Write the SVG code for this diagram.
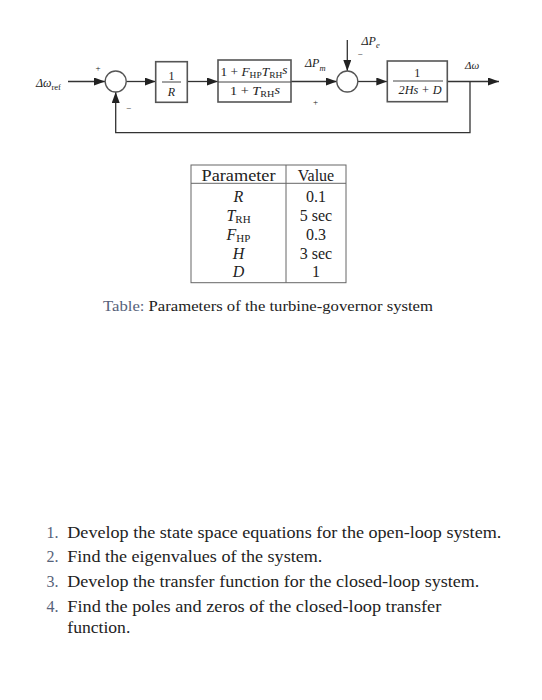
<svg xmlns="http://www.w3.org/2000/svg" width="542" height="700" viewBox="0 0 542 700">
<defs>
<style>
.t{font-family:"Liberation Serif","Times New Roman",serif;fill:#222}
.i{font-style:italic}
.ln{stroke:#333;stroke-width:1.3;fill:none}
.bx{stroke:#555;stroke-width:1.6;fill:#fff}
.frac{stroke:#444;stroke-width:1}
.sum{stroke:#555;stroke-width:1.3;fill:#fff}
.tb{stroke:#666;stroke-width:1;fill:none}
.num{fill:#56627a}
</style>
<marker id="ah" viewBox="0 0 11 8" refX="11" refY="4" markerWidth="11" markerHeight="8" markerUnits="userSpaceOnUse" orient="auto">
<path d="M0,0 L11,4 L0,8 z" fill="#222"/>
</marker>
</defs>
<rect width="542" height="700" fill="#fff"/>

<g id="connectors">
<path class="ln" d="M68,81.5 H105" marker-end="url(#ah)"/>
<path class="ln" d="M126.2,81.5 H155.7" marker-end="url(#ah)"/>
<path class="ln" d="M187.3,81.5 H218" marker-end="url(#ah)"/>
<path class="ln" d="M291,81.5 H336.8" marker-end="url(#ah)"/>
<path class="ln" d="M347.3,40 V71" marker-end="url(#ah)"/>
<path class="ln" d="M357.8,81.5 H387.3" marker-end="url(#ah)"/>
<path class="ln" d="M447.3,81.5 H499" marker-end="url(#ah)"/>
<path class="ln" d="M470,81.5 V132.7 H115.7 V92" marker-end="url(#ah)"/>
</g>

<g id="input-label">
<text class="t i" x="36" y="86.5" font-size="12">Δω<tspan font-size="8.5" dy="3" font-style="normal">ref</tspan></text>
</g>

<g id="sum1">
<circle class="sum" cx="115.7" cy="81.5" r="10.5"/>
<text class="t" x="98" y="71" font-size="9" text-anchor="middle">+</text>
<text class="t" x="128.5" y="111" font-size="9" text-anchor="middle">−</text>
</g>

<g id="box-gain">
<rect class="bx" x="155.7" y="61.7" width="31.6" height="40.6"/>
<text class="t" x="171.5" y="79.5" font-size="12" text-anchor="middle">1</text>
<line class="frac" x1="162" y1="82" x2="181" y2="82"/>
<text class="t i" x="171.5" y="95.5" font-size="12" text-anchor="middle">R</text>
</g>

<g id="box-turbine">
<rect class="bx" x="218" y="60" width="73" height="42"/>
<text class="t" x="220.5" y="75.5" font-size="12" textLength="67" lengthAdjust="spacingAndGlyphs">1 + <tspan class="i">F</tspan><tspan font-size="8.5" dy="2.5">HP</tspan><tspan class="i" dy="-2.5">T</tspan><tspan font-size="8.5" dy="2.5">RH</tspan><tspan class="i" dy="-4.5">s</tspan></text>
<line class="frac" x1="218" y1="82" x2="291" y2="82"/>
<text class="t" x="230" y="94.5" font-size="12" textLength="50" lengthAdjust="spacingAndGlyphs">1 + <tspan class="i">T</tspan><tspan font-size="8.5" dy="2.5">RH</tspan><tspan class="i" dy="-3.5">s</tspan></text>
</g>

<g id="pm-label">
<text class="t i" x="305" y="67" font-size="12">ΔP<tspan font-size="8.5" dy="4">m</tspan></text>
<text class="t" x="315.5" y="105" font-size="9" text-anchor="middle">+</text>
</g>

<g id="sum2">
<circle class="sum" cx="347.3" cy="81.5" r="10.5"/>
</g>

<g id="pe-label">
<text class="t i" x="361.5" y="45" font-size="12">ΔP<tspan font-size="8.5" dy="3">e</tspan></text>
<text class="t" x="360" y="57" font-size="9" text-anchor="middle">−</text>
</g>

<g id="box-inertia">
<rect class="bx" x="387.3" y="61" width="60" height="40.7"/>
<text class="t" x="417.3" y="76.5" font-size="12" text-anchor="middle">1</text>
<line class="frac" x1="393" y1="81" x2="443" y2="81"/>
<text class="t i" x="398.5" y="93.5" font-size="12" textLength="43" lengthAdjust="spacingAndGlyphs">2Hs + D</text>
</g>

<g id="output-label">
<text class="t i" x="465" y="68.5" font-size="11">Δω</text>
</g>

<g id="table">
<rect class="tb" x="191" y="165" width="155" height="117.7"/>
<line class="tb" x1="191" y1="183.3" x2="346" y2="183.3"/>
<line class="tb" x1="286" y1="165" x2="286" y2="282.7"/>
<text class="t" x="238.5" y="180.5" font-size="16" text-anchor="middle" textLength="74" lengthAdjust="spacingAndGlyphs">Parameter</text>
<text class="t" x="316" y="180.5" font-size="16" text-anchor="middle">Value</text>
<text class="t i" x="238.5" y="201.5" font-size="16" text-anchor="middle">R</text>
<text class="t" x="238.5" y="221" font-size="16" text-anchor="middle"><tspan class="i">T</tspan><tspan font-size="11" dy="2">RH</tspan></text>
<text class="t" x="238.5" y="240" font-size="16" text-anchor="middle"><tspan class="i">F</tspan><tspan font-size="11" dy="2">HP</tspan></text>
<text class="t i" x="238.5" y="259" font-size="16" text-anchor="middle">H</text>
<text class="t i" x="238.5" y="277" font-size="16" text-anchor="middle">D</text>
<text class="t" x="316" y="201.5" font-size="16" text-anchor="middle">0.1</text>
<text class="t" x="316" y="221" font-size="16" text-anchor="middle">5 sec</text>
<text class="t" x="316" y="240" font-size="16" text-anchor="middle">0.3</text>
<text class="t" x="316" y="259" font-size="16" text-anchor="middle">3 sec</text>
<text class="t" x="316" y="277" font-size="16" text-anchor="middle">1</text>
</g>

<g id="caption">
<text class="t" x="103" y="310.5" font-size="15" textLength="330" lengthAdjust="spacingAndGlyphs"><tspan class="num">Table:</tspan> Parameters of the turbine-governor system</text>
</g>

<g id="questions">
<text class="t num" x="46.5" y="537.7" font-size="16">1.</text>
<text class="t" x="67.3" y="537.7" font-size="16" textLength="434" lengthAdjust="spacingAndGlyphs">Develop the state space equations for the open-loop system.</text>
<text class="t num" x="46.5" y="562.2" font-size="16">2.</text>
<text class="t" x="67.3" y="562.2" font-size="16" textLength="255" lengthAdjust="spacingAndGlyphs">Find the eigenvalues of the system.</text>
<text class="t num" x="46.5" y="586.7" font-size="16">3.</text>
<text class="t" x="67.3" y="586.7" font-size="16" textLength="412" lengthAdjust="spacingAndGlyphs">Develop the transfer function for the closed-loop system.</text>
<text class="t num" x="46.5" y="611.5" font-size="16">4.</text>
<text class="t" x="67.3" y="611.5" font-size="16" textLength="374" lengthAdjust="spacingAndGlyphs">Find the poles and zeros of the closed-loop transfer</text>
<text class="t" x="67.3" y="632.7" font-size="16" textLength="63" lengthAdjust="spacingAndGlyphs">function.</text>
</g>
</svg>
